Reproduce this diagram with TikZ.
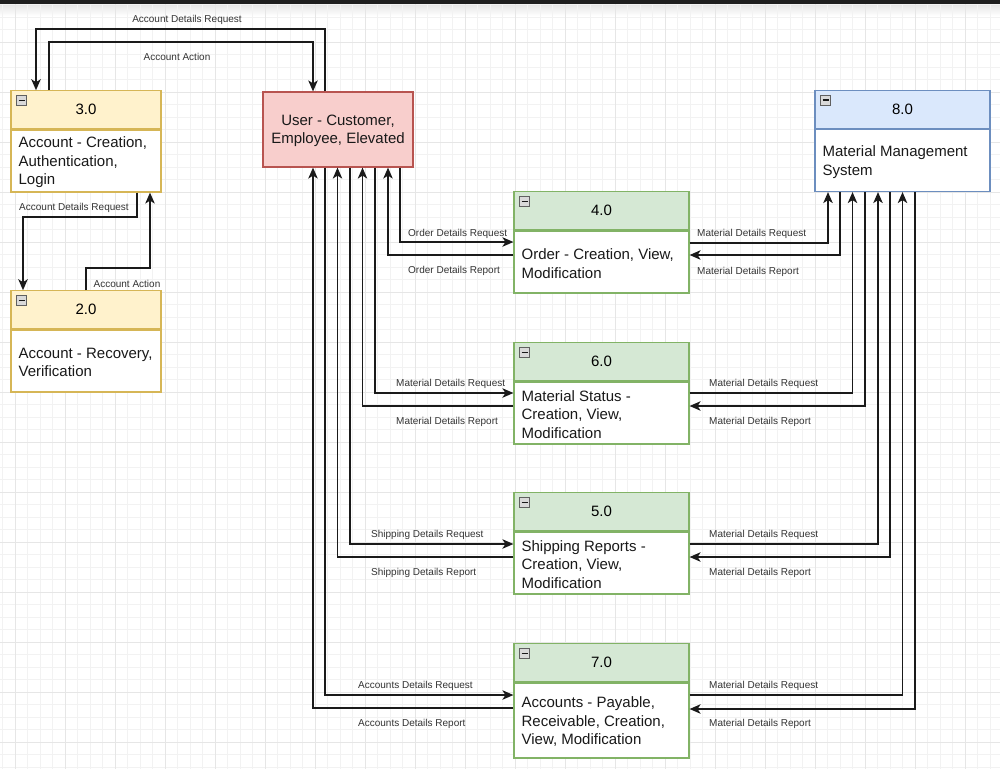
\documentclass[tikz,border=0pt]{standalone}
\usepackage{fontspec}
\setmainfont{Liberation Sans}
\usetikzlibrary{positioning,arrows.meta}

\definecolor{yelfill}{HTML}{FFF2CC}
\definecolor{yeldraw}{HTML}{D6B656}
\definecolor{redfill}{HTML}{F8CECC}
\definecolor{reddraw}{HTML}{B85450}
\definecolor{bluefill}{HTML}{DAE8FC}
\definecolor{bluedraw}{HTML}{6C8EBF}
\definecolor{grnfill}{HTML}{D5E8D4}
\definecolor{grndraw}{HTML}{82B366}
\definecolor{linecol}{HTML}{1A1A1A}
\definecolor{lblcol}{HTML}{333333}
\definecolor{gridminor}{HTML}{F2F2F2}
\definecolor{gridmajor}{HTML}{E6E6E6}
\definecolor{topbar}{HTML}{1E1E1E}

\newcommand{\boxfont}{\fontsize{15pt}{18.5pt}\selectfont}
\newcommand{\lblfont}{\fontsize{10pt}{12pt}\selectfont}

\tikzset{
  flow/.style={draw=linecol, line width=1.3pt, -{Stealth[length=11pt,width=9.5pt,inset=3pt]}},
  body/.style={draw=#1, fill=white, line width=1.2pt, minimum width=150pt, minimum height=62pt, inner sep=0pt},
  head/.style 2 args={draw=#1, fill=#2, line width=1.2pt, minimum width=150pt, minimum height=38pt, inner sep=0pt, font=\boxfont},
  boxtext/.style={font=\boxfont, align=left, inner sep=0pt, text=black!90, yshift=-1.5pt},
  lbl/.style={font=\lblfont, text=lblcol, inner sep=0pt, yshift=-1.5pt},
  minus/.style={draw=gray!75!black, fill=gray!30, line width=0.6pt, minimum size=10pt, inner sep=0pt,
    path picture={\draw[line width=1.6pt, gray!20!black] ([xshift=-3pt]path picture bounding box.center) -- ([xshift=3pt]path picture bounding box.center);}},
  gridline/.style={draw=gridminor, line width=0.6pt},
}

\begin{document}
\begin{tikzpicture}[x=1pt, y=-1pt]
  \useasboundingbox (0,0) rectangle (1000,769);
  \fill[white] (0,0) rectangle (1000,769);
  \shade[top color=gray!22, bottom color=white] (0,3.5) rectangle (1000,16);

  % canvas grid
  \foreach \k in {0,...,79}
    \draw[gridline] (2.5+12.5*\k,3.5) -- (2.5+12.5*\k,769);
  \foreach \k in {0,...,61}
    \draw[gridline] (0,4.5+12.5*\k) -- (1000,4.5+12.5*\k);
  \foreach \k in {0,...,19}
    \draw[gridline, draw=gridmajor] (15+50*\k,3.5) -- (15+50*\k,769);
  \foreach \k in {0,...,15}
    \draw[gridline, draw=gridmajor] (0,42+50*\k) -- (1000,42+50*\k);
  \fill[topbar] (0,0) rectangle (1000,3.5);

  % user
  \node[draw=reddraw, fill=redfill, line width=1.2pt, minimum width=150pt, minimum height=75pt] (user) at (338,129.5) {};
  \node[boxtext, align=center] (usert) at (user.center) {User - Customer,\\Employee, Elevated};

  % 3.0
  \node[body=yeldraw] (p3) at (86,161) {};
  \node[head={yeldraw}{yelfill}, above=0pt of p3] (p3h) {3.0};
  \node[minus, below right=5pt and 6pt of p3h.north west] (p3m) {};
  \node[boxtext, right=8pt of p3.west] (p3t) {Account - Creation,\\Authentication,\\Login};

  % 2.0
  \node[body=yeldraw] (p2) at (86,361) {};
  \node[head={yeldraw}{yelfill}, above=0pt of p2] (p2h) {2.0};
  \node[minus, below right=5pt and 6pt of p2h.north west] (p2m) {};
  \node[boxtext, right=8pt of p2.west] (p2t) {Account - Recovery,\\Verification};

  % 8.0
  \node[body=bluedraw, minimum width=175pt] (p8) at (902.5,160.5) {};
  \node[head={bluedraw}{bluefill}, minimum width=175pt, above=0pt of p8] (p8h) {8.0};
  \node[minus, below right=5pt and 6pt of p8h.north west] (p8m) {};
  \node[boxtext, right=8pt of p8.west] (p8t) {Material Management\\System};

  % 4.0
  \node[body=grndraw, minimum width=175pt] (p4) at (601.5,262) {};
  \node[head={grndraw}{grnfill}, minimum width=175pt, above=0pt of p4] (p4h) {4.0};
  \node[minus, below right=5pt and 6pt of p4h.north west] (p4m) {};
  \node[boxtext, right=8pt of p4.west] (p4t) {Order - Creation, View,\\Modification};

  % 6.0
  \node[body=grndraw, minimum width=175pt] (p6) at (601.5,413) {};
  \node[head={grndraw}{grnfill}, minimum width=175pt, above=0pt of p6] (p6h) {6.0};
  \node[minus, below right=5pt and 6pt of p6h.north west] (p6m) {};
  \node[boxtext, right=8pt of p6.west] (p6t) {Material Status -\\Creation, View,\\Modification};

  % 5.0
  \node[body=grndraw, minimum width=175pt] (p5) at (601.5,563) {};
  \node[head={grndraw}{grnfill}, minimum width=175pt, above=0pt of p5] (p5h) {5.0};
  \node[minus, below right=5pt and 6pt of p5h.north west] (p5m) {};
  \node[boxtext, right=8pt of p5.west] (p5t) {Shipping Reports -\\Creation, View,\\Modification};

  % 7.0
  \node[body=grndraw, minimum width=175pt, minimum height=75pt] (p7) at (601.5,720.5) {};
  \node[head={grndraw}{grnfill}, minimum width=175pt, above=0pt of p7] (p7h) {7.0};
  \node[minus, below right=5pt and 6pt of p7h.north west] (p7m) {};
  \node[boxtext, right=8pt of p7.west] (p7t) {Accounts - Payable,\\Receivable, Creation,\\View, Modification};

  % account flows
  \draw[flow] (user.north -| 325,0) -- (325,29) -| (p3h.north -| 36,0);
  \draw[flow] (p3h.north -| 49,0) -- (49,42) -| (user.north -| 313,0);
  \draw[flow] (p3.south -| 137,0) -- (137,217) -| (p2h.north -| 23,0);
  \draw[flow] (p2h.north -| 86,0) -- (86,268) -| (p3.south -| 150,0);

  % user side
  \draw[flow] (user.south -| 400,0) |- (p4.west |- 0,242);
  \draw[flow] (p4.west |- 0,255) -| (user.south -| 388,0);
  \draw[flow] (user.south -| 375,0) |- (p6.west |- 0,393);
  \draw[flow] (p6.west |- 0,406) -| (user.south -| 362.5,0);
  \draw[flow] (user.south -| 350,0) |- (p5.west |- 0,544);
  \draw[flow] (p5.west |- 0,557) -| (user.south -| 337.5,0);
  \draw[flow] (user.south -| 325,0) |- (p7.west |- 0,695);
  \draw[flow] (p7.west |- 0,708) -| (user.south -| 313,0);

  % material side
  \draw[flow] (p4.east |- 0,243) -| (p8.south -| 828,0);
  \draw[flow] (p8.south -| 840,0) |- (p4.east |- 0,255);
  \draw[flow] (p6.east |- 0,393) -| (p8.south -| 852.5,0);
  \draw[flow] (p8.south -| 865,0) |- (p6.east |- 0,406);
  \draw[flow] (p5.east |- 0,544) -| (p8.south -| 878,0);
  \draw[flow] (p8.south -| 890,0) |- (p5.east |- 0,557);
  \draw[flow] (p7.east |- 0,695) -| (p8.south -| 902.5,0);
  \draw[flow] (p8.south -| 915,0) |- (p7.east |- 0,709);

  % labels
  \node[lbl] (lreq3) at (187,18) {Account Details Request};
  \node[lbl] (lact3) at (177,55) {Account Action};
  \node[lbl] (lreq2) at (74,206) {Account Details Request};
  \node[lbl] (lact2) at (127,282) {Account Action};

  \node[lbl, anchor=west] (lreq4) at (408,232) {Order Details Request};
  \node[lbl, anchor=west] (lrep4) at (408,269) {Order Details Report};
  \node[lbl, anchor=west] (lreq6) at (396,382) {Material Details Request};
  \node[lbl, anchor=west] (lrep6) at (396,420) {Material Details Report};
  \node[lbl, anchor=west] (lreq5) at (371,533) {Shipping Details Request};
  \node[lbl, anchor=west] (lrep5) at (371,571) {Shipping Details Report};
  \node[lbl, anchor=west] (lreq7) at (358,684) {Accounts Details Request};
  \node[lbl, anchor=west] (lrep7) at (358,722) {Accounts Details Report};

  \node[lbl, anchor=west] (mreq4) at (697,232) {Material Details Request};
  \node[lbl, anchor=west] (mrep4) at (697,270) {Material Details Report};
  \node[lbl, anchor=west] (mreq6) at (709,382) {Material Details Request};
  \node[lbl, anchor=west] (mrep6) at (709,420) {Material Details Report};
  \node[lbl, anchor=west] (mreq5) at (709,533) {Material Details Request};
  \node[lbl, anchor=west] (mrep5) at (709,571) {Material Details Report};
  \node[lbl, anchor=west] (mreq7) at (709,684) {Material Details Request};
  \node[lbl, anchor=west] (mrep7) at (709,722) {Material Details Report};
\end{tikzpicture}
\end{document}
